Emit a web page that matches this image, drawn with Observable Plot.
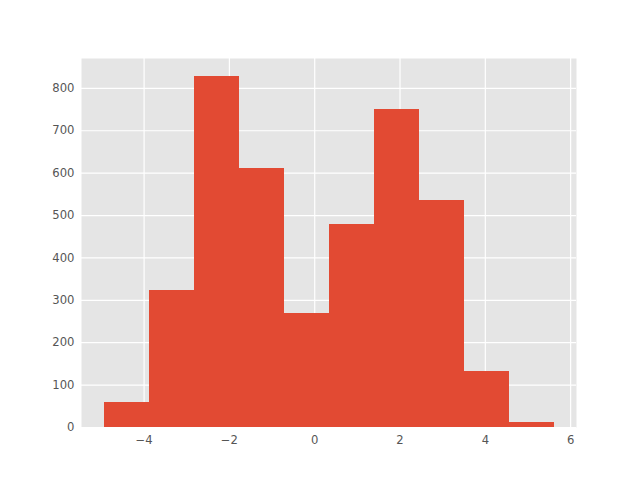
<!DOCTYPE html>
<html>
<head>
<meta charset="utf-8">
<script src="https://cdn.jsdelivr.net/npm/d3@7"></script>
<script src="https://cdn.jsdelivr.net/npm/@observablehq/plot@0.6"></script>
<style>
  html, body { margin: 0; padding: 0; background: #ffffff; }
</style>
</head>
<body>
<div id="chart"></div>
<script>
const binEdges = [-4.94, -3.885, -2.83, -1.775, -0.72, 0.335, 1.39, 2.445, 3.5, 4.555, 5.61];
const counts = [58, 322, 829, 612, 270, 480, 751, 536, 131, 11];
const xTicks = [-4, -2, 0, 2, 4, 6];
const yTicks = [0, 100, 200, 300, 400, 500, 600, 700, 800];

const bins = counts.map((c, i) => ({x1: binEdges[i], x2: binEdges[i + 1], count: c}));

const lo = binEdges[0], hi = binEdges[binEdges.length - 1];
const pad = (hi - lo) * 0.05;
const ymax = d3.max(counts) * 1.05;

const chart = Plot.plot({
  width: 640,
  height: 480,
  marginLeft: 81,
  marginRight: 64,
  marginTop: 58,
  marginBottom: 53,
  style: {fontFamily: "DejaVu Sans, sans-serif", fontSize: "11.6px", color: "#555555", background: "#ffffff"},
  x: {domain: [lo - pad, hi + pad]},
  y: {domain: [0, ymax]},
  marks: [
    Plot.frame({fill: "#E5E5E5", stroke: null}),
    Plot.gridX(xTicks, {stroke: "#ffffff", strokeOpacity: 1, strokeWidth: 1.2}),
    Plot.gridY(yTicks, {stroke: "#ffffff", strokeOpacity: 1, strokeWidth: 1.2}),
    Plot.rectY(bins, {x1: "x1", x2: "x2", y1: 0, y2: "count", fill: "#E24A33", inset: 0, shapeRendering: "crispEdges"}),
    Plot.axisX(xTicks, {tickSize: 0, tickPadding: 8, label: null, fill: "#555555", tickFormat: d => d3.format("d")(d)}),
    Plot.axisY(yTicks, {tickSize: 0, tickPadding: 7, label: null, fill: "#555555"})
  ]
});
document.getElementById("chart").appendChild(chart);
</script>
</body>
</html>
